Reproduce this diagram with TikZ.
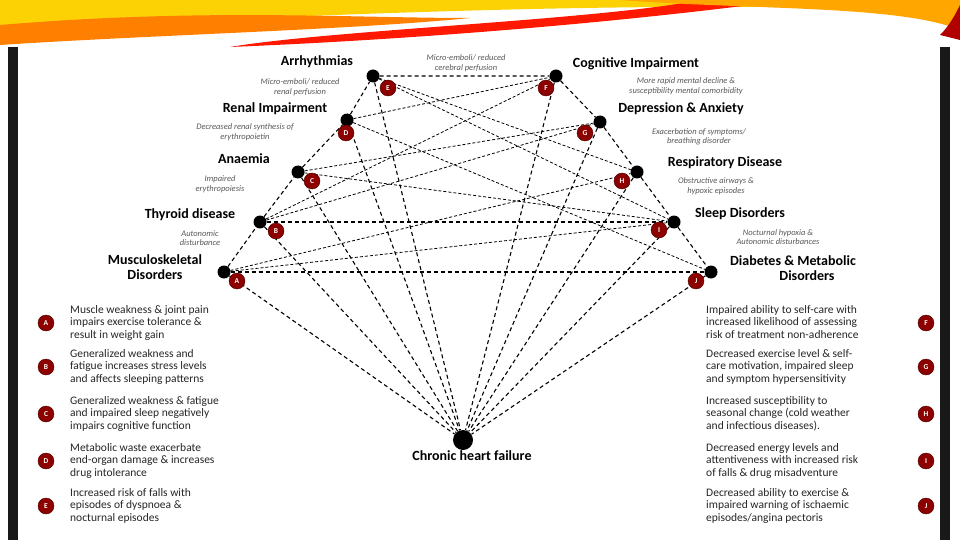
\documentclass[tikz,border=0pt]{standalone}
\usepackage{fontspec}
\setmainfont{Carlito}
\begin{document}
\begin{tikzpicture}[x=1pt,y=-1pt,
  dot/.style={circle,fill=black,inner sep=0pt,minimum size=13pt},
  bdg/.style={circle,fill=red!55!black,draw=red!30!black,text=white,inner sep=0pt,minimum size=16pt,font=\fontsize{7.5}{7.5}\selectfont\bfseries},
  ttl/.style={font=\fontsize{14}{15}\selectfont\bfseries,align=center},
  sub/.style={font=\fontsize{8.5}{9.5}\selectfont\itshape,text=black!65,align=center},
  txt/.style={font=\fontsize{11.5}{12.5}\selectfont,align=left,anchor=north west,inner sep=0pt,text=black!85},
  dl/.style={dash pattern=on 4pt off 3pt,line width=1.1pt},
  dt/.style={dash pattern=on 3pt off 2pt,line width=0.8pt}]
\useasboundingbox (0,0) rectangle (960,540);
\fill[white] (0,0) rectangle (960,540);
% top wave
\fill[yellow!70!orange] (0,0) -- (960,0) -- (960,12) .. controls (700,0) and (400,10) .. (0,30) -- cycle;
\fill[orange] (0,25) .. controls (200,8) and (350,18) .. (470,18) .. controls (350,30) and (150,35) .. (0,45) -- cycle;
\fill[red!80!orange] (230,47) .. controls (330,30) and (600,20) .. (700,0) -- (790,0) .. controls (600,25) and (400,40) .. (230,47) -- cycle;
\fill[orange!70!yellow] (620,0) .. controls (750,10) and (900,5) .. (960,30) -- (960,0) -- cycle;
\fill[red!70!black] (940,35) .. controls (950,25) and (955,15) .. (960,5) -- (960,40) -- cycle;
% side bars
\fill[black!90] (8,47) rectangle (18,540);
\fill[black!90] (940,47) rectangle (950,540);

% nodes
\node[dot] (arr) at (373,76) {};
\node[dot] (ren) at (347,120) {};
\node[dot] (ana) at (298,172) {};
\node[dot] (thy) at (260,222) {};
\node[dot] (mus) at (224,272) {};
\node[dot] (cog) at (556,76) {};
\node[dot] (dep) at (600,122) {};
\node[dot] (res) at (637,172) {};
\node[dot] (slp) at (674,222) {};
\node[dot] (dia) at (711,272) {};
\node[dot,minimum size=20pt] (chf) at (463,440) {};

% outline
\draw[dl] (mus) -- (thy) -- (ana) -- (ren) -- (arr) -- (cog) -- (dep) -- (res) -- (slp) -- (dia);
\draw[dl] (mus) -- (dia);
\draw[dl] (thy) -- (slp);
\foreach \n in {arr,ren,ana,thy,mus,cog,dep,res,slp,dia} \draw[dl] (\n) -- (chf);
% crossings
\draw[dt] (arr) -- (res);
\draw[dt] (arr) -- (slp);
\draw[dt] (ren) -- (cog);
\draw[dt] (ren) -- (dia);
\draw[dt] (ana) -- (dep);
\draw[dt] (ana) -- (slp);
\draw[dt] (thy) -- (cog);
\draw[dt] (thy) -- (dep);
\draw[dt] (mus) -- (res);
\draw[dt] (mus) -- (slp);

% badges
\node[bdg] (bA) at (237,281) {A};
\node[bdg] (bB) at (276,231) {B};
\node[bdg] (bC) at (312,181) {C};
\node[bdg] (bD) at (346,133) {D};
\node[bdg] (bE) at (388,88) {E};
\node[bdg] (bF) at (546,88) {F};
\node[bdg] (bG) at (585,133) {G};
\node[bdg] (bH) at (622,181) {H};
\node[bdg] (bI) at (659,230) {I};
\node[bdg] (bJ) at (696,281) {J};

% titles
\node[ttl] (tarr) at (317,62) {Arrhythmias};
\node[sub] (sarr) at (300,87) {Micro-emboli/ reduced\\renal perfusion};
\node[sub] (stop) at (466,63) {Micro-emboli/ reduced\\cerebral perfusion};
\node[ttl] (tren) at (275,109) {Renal Impairment};
\node[sub] (sren) at (245,132) {Decreased renal synthesis of\\erythropoietin};
\node[ttl] (tana) at (244,159) {Anaemia};
\node[sub] (sana) at (220,184) {Impaired\\erythropoiesis};
\node[ttl] (tthy) at (190,215) {Thyroid disease};
\node[sub] (sthy) at (200,238) {Autonomic\\disturbance};
\node[ttl] (tmus) at (155,267) {Musculoskeletal\\Disorders};
\node[ttl] (tcog) at (636,64) {Cognitive Impairment};
\node[sub] (scog) at (686,86) {More rapid mental decline \&\\susceptibility mental comorbidity};
\node[ttl] (tdep) at (681,109) {Depression \& Anxiety};
\node[sub] (sdep) at (699,137) {Exacerbation of symptoms/\\breathing disorder};
\node[ttl] (tres) at (725,163) {Respiratory Disease};
\node[sub] (sres) at (716,186) {Obstructive airways \&\\hypoxic episodes};
\node[ttl] (tslp) at (740,214) {Sleep Disorders};
\node[sub] (sslp) at (778,237) {Nocturnal hypoxia \&\\Autonomic disturbances};
\node[ttl] (tdia) at (793,268) {Diabetes \& Metabolic\\\hspace*{2em}Disorders};
\node[ttl] (tchf) at (472,456) {Chronic heart failure};

% left legend
\foreach \l/\y/\t in {A/305/{Muscle weakness \& joint pain\\impairs exercise tolerance \&\\result in weight gain},
  B/349/{Generalized weakness and\\fatigue increases stress levels\\and affects sleeping patterns},
  C/396/{Generalized weakness \& fatigue\\and impaired sleep negatively\\impairs cognitive function},
  D/443/{Metabolic waste exacerbate\\end-organ damage \& increases\\drug intolerance},
  E/488/{Increased risk of falls with\\episodes of dyspnoea \&\\nocturnal episodes}}{
  \node[bdg] (l\l) at (46,\y+18) {\l};
  \node[txt] (lt\l) at (70,\y) {\t};
}
% right legend
\foreach \l/\y/\t in {F/305/{Impaired ability to self-care with\\increased likelihood of assessing\\risk of treatment non-adherence},
  G/349/{Decreased exercise level \& self-\\care motivation, impaired sleep\\and symptom hypersensitivity},
  H/396/{Increased susceptibility to\\seasonal change (cold weather\\and infectious diseases).},
  I/443/{Decreased energy levels and\\attentiveness with increased risk\\of falls \& drug misadventure},
  J/488/{Decreased ability to exercise \&\\impaired warning of ischaemic\\episodes/angina pectoris}}{
  \node[bdg] (r\l) at (926,\y+18) {\l};
  \node[txt] (rt\l) at (706,\y) {\t};
}
\end{tikzpicture}
\end{document}
